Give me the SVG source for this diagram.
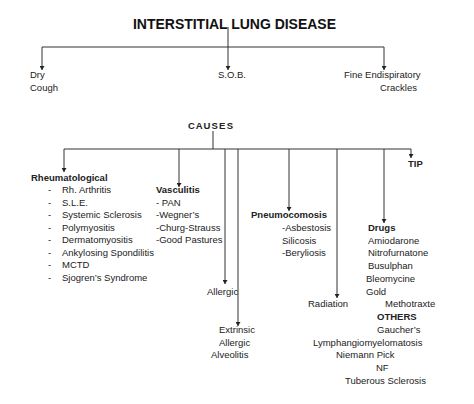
<svg xmlns="http://www.w3.org/2000/svg" width="474" height="404" viewBox="0 0 474 404">
<style>
text{font-family:"Liberation Sans",Arial,sans-serif;font-size:9.5px;fill:#222}
.b{font-weight:bold}
.t{font-size:14px;font-weight:bold;fill:#111}
.c{stroke:#333;stroke-width:1;fill:none}
.a{marker-end:url(#ah)}
</style>
<defs>
<marker id="ah" markerWidth="5" markerHeight="5" refX="4" refY="2.5" orient="auto" markerUnits="userSpaceOnUse">
<path d="M0,0 L4,2.5 L0,5 z" fill="#222"/>
</marker>
</defs>
<rect width="474" height="404" fill="#fff"/>
<g id="connectors">
<path class="c a" d="M228,27 V70"/>
<path class="c" d="M42,47 H384"/>
<path class="c a" d="M42,47 V70"/>
<path class="c a" d="M384,47 V70"/>
<path class="c" d="M213,131 V149"/>
<path class="c" d="M64,149 H411"/>
<path class="c a" d="M64,149 V172"/>
<path class="c a" d="M179,149 V187"/>
<path class="c a" d="M225,149 V284"/>
<path class="c a" d="M238,149 V326"/>
<path class="c a" d="M289,149 V211"/>
<path class="c a" d="M337,149 V298"/>
<path class="c a" d="M384,149 V223"/>
<path class="c a" d="M411,149 V158"/>
</g>
<g id="title"><text class="t" x="133" y="29" textLength="203">INTERSTITIAL LUNG DISEASE</text></g>
<g id="dry-cough"><text x="30" y="78">Dry</text><text x="30" y="91">Cough</text></g>
<g id="sob"><text x="218" y="78">S.O.B.</text></g>
<g id="crackles"><text x="344" y="78">Fine Endispiratory</text><text x="380" y="91">Crackles</text></g>
<g id="causes"><text class="b" x="188" y="129" font-size="8.5" textLength="45">C A U S E S</text></g>
<g id="rheumatological">
<text class="b" x="31" y="181">Rheumatological</text>
<text x="48" y="193">-</text><text x="62" y="193">Rh. Arthritis</text>
<text x="48" y="205.5">-</text><text x="62" y="205.5">S.L.E.</text>
<text x="48" y="218">-</text><text x="62" y="218">Systemic Sclerosis</text>
<text x="48" y="230.5">-</text><text x="62" y="230.5">Polymyositis</text>
<text x="48" y="243">-</text><text x="62" y="243">Dermatomyositis</text>
<text x="48" y="256">-</text><text x="62" y="256">Ankylosing Spondilitis</text>
<text x="48" y="268">-</text><text x="62" y="268">MCTD</text>
<text x="48" y="281">-</text><text x="62" y="281">Sjogren’s Syndrome</text>
</g>
<g id="vasculitis">
<text class="b" x="156" y="193">Vasculitis</text>
<text x="156" y="205.5">- PAN</text>
<text x="156" y="218">-Wegner’s</text>
<text x="156" y="230.5">-Churg-Strauss</text>
<text x="156" y="243">-Good Pastures</text>
</g>
<g id="allergic"><text x="207" y="295">Allergic</text></g>
<g id="eaa"><text x="219" y="333">Extrinsic</text><text x="219" y="345.5">Allergic</text><text x="211" y="358">Alveolitis</text></g>
<g id="pneumoconiosis">
<text class="b" x="251" y="218">Pneumocomosis</text>
<text x="282" y="231">-Asbestosis</text>
<text x="282" y="243.5">Silicosis</text>
<text x="282" y="256">-Beryliosis</text>
</g>
<g id="radiation"><text x="308" y="307">Radiation</text></g>
<g id="drugs">
<text class="b" x="368" y="231">Drugs</text>
<text x="368" y="243.5">Amiodarone</text>
<text x="368" y="256">Nitrofurnatone</text>
<text x="368" y="268.5">Busulphan</text>
<text x="366" y="281.5">Bleomycine</text>
<text x="366" y="294.5">Gold</text>
<text x="385" y="307">Methotraxte</text>
<text class="b" x="377" y="320">OTHERS</text>
<text x="377" y="333">Gaucher’s</text>
<text x="313" y="345.5">Lymphangiomyelomatosis</text>
<text x="336" y="358">Niemann Pick</text>
<text x="376" y="371">NF</text>
<text x="345" y="383.5">Tuberous Sclerosis</text>
</g>
<g id="tip"><text class="b" x="408" y="167">TIP</text></g>
</svg>
